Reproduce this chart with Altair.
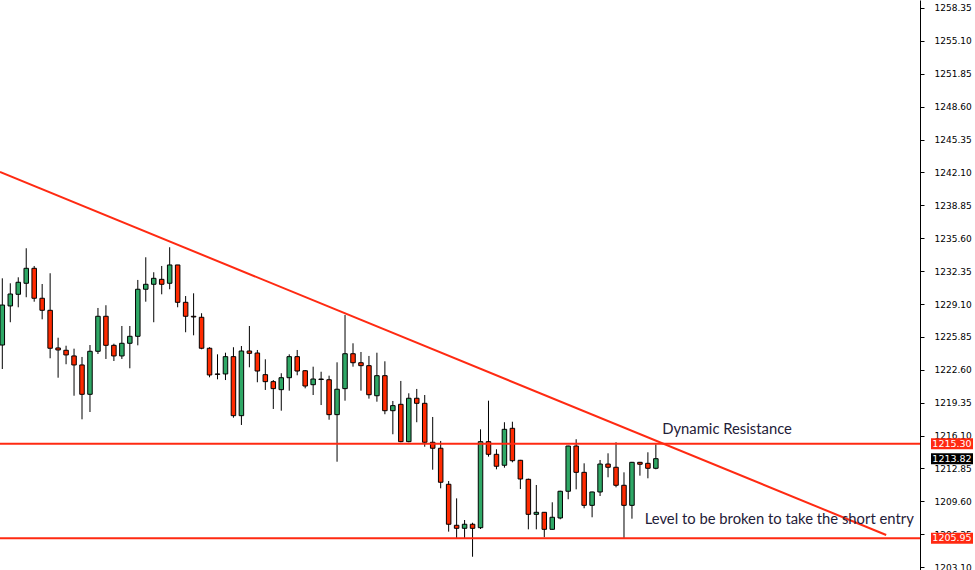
import altair as alt
import pandas as pd

# ---- candle data ----
opens = [1225.05, 1228.91, 1230.06, 1231.15, 1232.63, 1229.67, 1228.48, 1224.76, 1224.53, 1223.97,
         1223.08, 1220.18, 1224.43, 1227.89, 1225.02, 1223.97, 1225.22, 1225.91, 1230.56, 1231.05,
         1231.54, 1231.15, 1232.96, 1229.27, 1227.89, 1227.79, 1224.73, 1222.19, 1222.19, 1223.90,
         1218.07, 1224.46, 1224.26, 1222.12, 1221.43, 1220.64, 1221.82, 1223.90, 1222.51, 1221.13,
         1221.69, 1221.62, 1218.17, 1220.74, 1224.19, 1223.30, 1223.01, 1220.04, 1222.02, 1218.56,
         1219.19, 1215.50, 1219.79, 1219.29, 1215.44, 1214.85, 1211.29, 1207.24, 1206.94, 1207.34,
         1207.00, 1215.50, 1214.25, 1213.17, 1216.82, 1213.66, 1211.78, 1208.32, 1208.52, 1206.84,
         1207.96, 1210.60, 1215.07, 1212.47, 1209.21, 1210.53, 1213.29, 1212.97, 1211.19, 1209.21,
         1213.46, 1213.36, 1212.87]
highs = [1231.64, 1231.15, 1231.74, 1234.61, 1232.86, 1231.08, 1232.14, 1225.77, 1224.98, 1224.69,
         1223.87, 1225.05, 1228.71, 1228.98, 1225.18, 1226.93, 1226.93, 1231.48, 1233.72, 1232.24,
         1232.86, 1234.71, 1232.96, 1229.89, 1230.16, 1228.19, 1224.83, 1224.13, 1224.29, 1224.83,
         1224.95, 1226.93, 1224.56, 1223.64, 1221.59, 1222.26, 1224.13, 1224.56, 1222.58, 1222.91,
         1222.41, 1222.02, 1223.34, 1228.02, 1225.22, 1224.36, 1223.97, 1224.29, 1223.44, 1219.52,
         1221.50, 1220.28, 1220.71, 1220.11, 1217.94, 1215.57, 1211.61, 1209.90, 1207.76, 1207.49,
         1216.72, 1219.55, 1214.75, 1217.42, 1217.47, 1213.70, 1211.85, 1211.22, 1208.55, 1209.51,
         1210.65, 1215.10, 1215.74, 1213.36, 1210.56, 1213.69, 1214.35, 1215.44, 1212.47, 1213.50,
         1213.50, 1214.45, 1215.24]
lows = [1222.68, 1227.30, 1228.78, 1229.77, 1229.33, 1227.59, 1223.74, 1221.82, 1223.15, 1220.04,
        1217.71, 1218.43, 1224.16, 1223.67, 1223.47, 1223.67, 1222.75, 1225.02, 1229.33, 1227.30,
        1230.06, 1230.56, 1228.78, 1226.31, 1226.01, 1224.63, 1221.86, 1221.66, 1221.59, 1217.87,
        1217.15, 1222.85, 1221.37, 1220.61, 1218.73, 1218.56, 1220.54, 1222.06, 1220.77, 1220.11,
        1219.12, 1217.67, 1213.52, 1219.55, 1222.91, 1220.54, 1219.75, 1219.45, 1218.21, 1216.23,
        1215.44, 1215.44, 1217.42, 1215.00, 1212.73, 1210.89, 1206.61, 1205.95, 1205.95, 1204.13,
        1206.87, 1214.02, 1212.77, 1212.93, 1213.46, 1210.82, 1206.84, 1206.84, 1206.05, 1206.80,
        1207.83, 1209.81, 1210.79, 1208.92, 1208.03, 1210.13, 1211.98, 1210.99, 1205.95, 1207.89,
        1212.14, 1211.88, 1212.77]
closes = [1229.00, 1230.09, 1231.25, 1232.63, 1229.67, 1228.48, 1224.73, 1224.56, 1224.07, 1223.08,
          1220.18, 1224.43, 1227.89, 1225.02, 1223.97, 1225.22, 1225.91, 1230.56, 1231.05, 1231.64,
          1231.05, 1232.96, 1229.27, 1227.89, 1227.82, 1224.73, 1222.09, 1222.15, 1223.90, 1218.07,
          1224.46, 1224.23, 1222.48, 1221.43, 1220.74, 1221.82, 1223.90, 1222.48, 1221.00, 1221.69,
          1221.64, 1218.17, 1220.68, 1224.19, 1223.30, 1223.01, 1220.14, 1222.02, 1218.56, 1219.06,
          1215.50, 1219.79, 1219.29, 1215.44, 1214.85, 1211.49, 1207.34, 1206.94, 1207.34, 1206.94,
          1215.50, 1214.25, 1213.07, 1216.72, 1213.62, 1211.81, 1208.32, 1208.52, 1206.84, 1208.03,
          1210.60, 1215.07, 1212.47, 1209.21, 1210.53, 1213.29, 1212.97, 1211.19, 1209.21, 1213.46,
          1213.27, 1212.87, 1213.82]

# axis tick labels
tick_values = [1258.35, 1255.10, 1251.85, 1248.60, 1245.35, 1242.10, 1238.85, 1235.60, 1232.35,
               1229.10, 1225.85, 1222.60, 1219.35, 1216.10, 1212.85, 1209.60, 1206.35, 1203.10]

# levels
resistance_level = 1215.30
support_level = 1205.95
last_price = 1213.82

# trend line (bar index, price)
trend_x = [-0.3, 110.9]
trend_y = [1242.15, 1206.28]

# annotations
ann_text = ["Dynamic Resistance", "Level to be broken to take the short entry"]
ann_x = [82.8, 80.6]
ann_y = [1216.65, 1207.76]

# price tags
tag_price = [resistance_level, last_price, support_level]
tag_label = ["1215.30", "1213.82", "1205.95"]
tag_kind = ["level", "last", "level"]

# ---- build ----
df = pd.DataFrame({"i": list(range(len(opens))), "open": opens, "high": highs,
                   "low": lows, "close": closes})
df["dir"] = ["up" if c > o else "down" for o, c in zip(opens, closes)]

RED = "#ff2a12"
GREEN = "#2fa866"
CANDLE_RED = "#ff2a00"

xs = alt.Scale(domain=[-0.29, 115.14], nice=False, zero=False, padding=0)
ys = alt.Scale(domain=[1202.82, 1259.14], nice=False, zero=False, padding=0)

y_axis = alt.Axis(
    orient="right", values=tick_values, format=".2f", grid=False,
    domainColor="#000000", domainWidth=1, tickColor="#000000", tickSize=4,
    labelColor="#000000", labelFont="DejaVu Sans", labelFontSize=9,
    labelPadding=10, title=None, labelOverlap=False, labelBound=False)

x_enc = alt.X("i:Q", scale=xs, axis=None)

base = alt.Chart(df)

wicks = base.mark_rule(color="#000000", strokeWidth=1).encode(
    x=x_enc,
    y=alt.Y("low:Q", scale=ys, axis=y_axis),
    y2="high:Q",
)

bodies = base.mark_bar(size=4.5, stroke="#000000", strokeWidth=1).encode(
    x=x_enc,
    y=alt.Y("open:Q", scale=ys, axis=y_axis),
    y2="close:Q",
    color=alt.Color("dir:N", scale=alt.Scale(domain=["up", "down"],
                                             range=[GREEN, CANDLE_RED]), legend=None),
)

hl = alt.Chart(pd.DataFrame({"p": [resistance_level, support_level]})).mark_rule(
    color=RED, strokeWidth=2).encode(y=alt.Y("p:Q", scale=ys, axis=y_axis))

trend = alt.Chart(pd.DataFrame({"x": trend_x, "y": trend_y})).mark_line(
    color=RED, strokeWidth=2).encode(
    x=alt.X("x:Q", scale=xs, axis=None), y=alt.Y("y:Q", scale=ys, axis=y_axis))

ann = alt.Chart(pd.DataFrame({"t": ann_text, "x": ann_x, "y": ann_y})).mark_text(
    align="left", baseline="middle", font="Lato", fontSize=14.8, color="#1f2038").encode(
    x=alt.X("x:Q", scale=xs, axis=None), y=alt.Y("y:Q", scale=ys, axis=y_axis), text="t:N")

tags_df = pd.DataFrame({"p": tag_price, "t": tag_label, "k": tag_kind})
tag_box = alt.Chart(tags_df).mark_tick(size=42, thickness=11, opacity=1).encode(
    x=alt.value(952),
    y=alt.Y("p:Q", scale=ys, axis=y_axis),
    color=alt.Color("k:N", scale=alt.Scale(domain=["level", "last"],
                                           range=[RED, "#000000"]), legend=None),
)
tag_text = alt.Chart(tags_df).mark_text(
    align="center", baseline="middle", font="DejaVu Sans", fontSize=9.5, color="#ffffff").encode(
    x=alt.value(952), y=alt.Y("p:Q", scale=ys, axis=y_axis), text="t:N")

chart = alt.layer(wicks, bodies, hl, trend, ann, tag_box, tag_text).resolve_scale(
    color="independent"
).properties(
    width=920, height=570,
    autosize=alt.AutoSizeParams(type="none"),
    padding={"left": 0, "top": 0, "right": 55, "bottom": 0},
    background="#ffffff",
).configure_view(stroke=None).configure_axis(labelOverlap=False)

chart.save("out.html", embed_options={"renderer": "svg", "actions": False})
